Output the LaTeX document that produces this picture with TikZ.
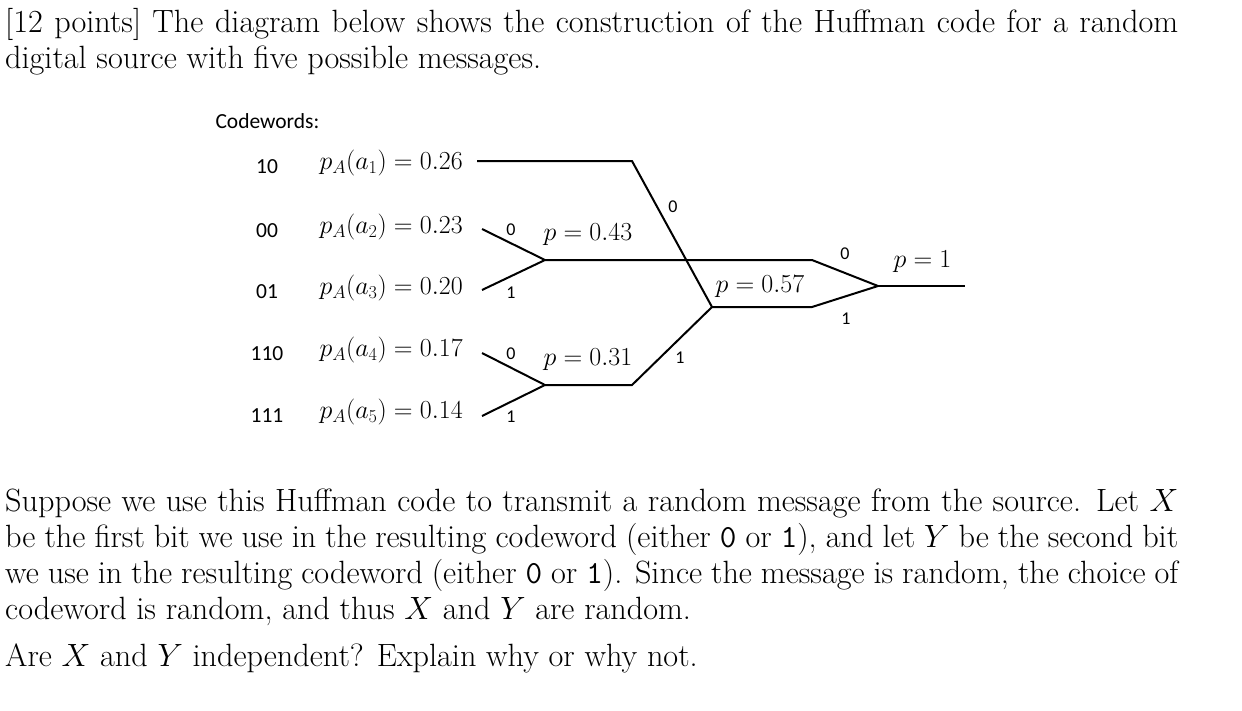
\RequirePackage{fix-cm}
\documentclass[tikz,border=0pt]{standalone}
\usepackage{amsmath}
\usepackage{fontspec}
\newfontfamily\cw{Carlito}
\begin{document}
\begin{tikzpicture}[x=1pt,y=-1pt,
  ln/.style={line width=2pt},
  cwl/.style={font=\cw\fontsize{21.5}{24}\selectfont},
  bit/.style={font=\cw\fontsize{18}{20}\selectfont},
  pr/.style={font=\fontsize{26}{30}\selectfont, anchor=west},
  txt/.style={anchor=north west, text width=1173pt, inner sep=0pt, align=justify, font=\fontsize{32.2}{36}\selectfont}]
\useasboundingbox (0,0) rectangle (1242,710);
\node[txt] (top) at (5,8) {[12 points] The diagram below shows the construction of the Huffman code for a random digital source with five possible messages.};
\node[cwl, anchor=west] (cwh) at (212,121) {Codewords:};
\foreach \c/\y/\i/\p in {10/167/1/0.26, 00/231/2/0.23, 01/292/3/0.20, 110/354/4/0.17, 111/416/5/0.14}{
  \node[cwl] (c\i) at (267,\y) {\c};
  \node[pr] (p\i) at (316,\y-4) {$p_A(a_{\i})=\p$};
}
\coordinate (s1) at (477,161);
\coordinate (s2) at (482,229);
\coordinate (s3) at (482,290);
\coordinate (s4) at (482,353);
\coordinate (s5) at (482,416);
\coordinate (n43) at (545,260);
\coordinate (n31) at (545,385);
\coordinate (k1) at (632,161);
\coordinate (k31) at (632,385);
\coordinate (n57) at (712,307);
\coordinate (k43) at (812,260);
\coordinate (k57) at (812,307);
\coordinate (n1) at (878,286);
\coordinate (e1) at (965,286);
\draw[ln] (s1) -- (k1) -- (n57);
\draw[ln] (s2) -- (n43) -- (s3);
\draw[ln] (s4) -- (n31) -- (s5);
\draw[ln] (n43) -- (k43) -- (n1);
\draw[ln] (n31) -- (k31) -- (n57);
\draw[ln] (n57) -- (k57) -- (n1);
\draw[ln] (n1) -- (e1);
\node[bit] (b1) at (511,230) {0};
\node[bit] (b2) at (511,293) {1};
\node[bit] (b3) at (511,354) {0};
\node[bit] (b4) at (511,417) {1};
\node[bit] (b5) at (673,207) {0};
\node[bit] (b6) at (680,358) {1};
\node[bit] (b7) at (845,254) {0};
\node[bit] (b8) at (846,319) {1};
\node[pr] (q43) at (540,235) {$p=0.43$};
\node[pr] (q31) at (540,360) {$p=0.31$};
\node[pr] (q57) at (712,287) {$p=0.57$};
\node[pr] (q1) at (890,262) {$p=1$};
\node[txt] (bot) at (5,489) {Suppose we use this Huffman code to transmit a random message from the source. Let $X$ be the first bit we use in the resulting codeword (either \texttt{0} or \texttt{1}), and let $Y$ be the second bit we use in the resulting codeword (either \texttt{0} or \texttt{1}). Since the message is random, the choice of codeword is random, and thus $X$ and $Y$ are random.\par\vspace{11pt}\noindent Are $X$ and $Y$ independent? Explain why or why not.};
\end{tikzpicture}
\end{document}
